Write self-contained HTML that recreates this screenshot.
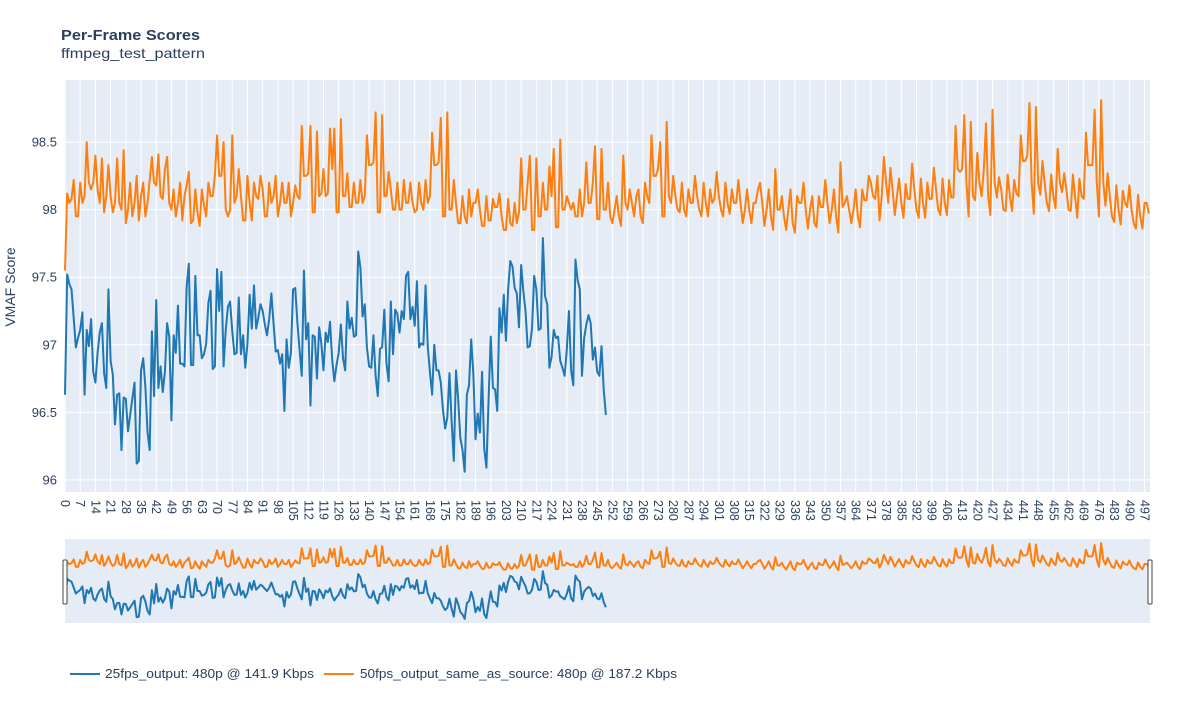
<!DOCTYPE html>
<html><head><meta charset="utf-8">
<style>
body{margin:0;background:#fff;font-family:"Liberation Sans",sans-serif;}
svg text{font-family:"Liberation Sans",sans-serif;fill:#2a3f5f;}
</style></head>
<body>
<svg id="chart" width="1200" height="700" xmlns="http://www.w3.org/2000/svg">
<rect width="1200" height="700" fill="#fff"/>
<text x="61" y="40" font-size="15" font-weight="bold" textLength="139" lengthAdjust="spacingAndGlyphs">Per-Frame Scores</text>
<text x="61" y="58" font-size="14" textLength="144" lengthAdjust="spacingAndGlyphs">ffmpeg_test_pattern</text>
<rect x="65" y="80" width="1085" height="412" fill="#e5ecf6"/>
<g id="grid"></g>
<g id="marks"></g>
<g id="xticks"></g>
<g id="yticks"></g>
<text transform="translate(15,287) rotate(-90)" text-anchor="middle" font-size="14">VMAF Score</text>
<rect x="65" y="539" width="1085" height="84" fill="#e5ecf6"/>
<g id="slider"></g>
<rect x="63" y="560" width="4" height="44" fill="#fff" stroke="#444" stroke-width="1" rx="1"/>
<rect x="1148" y="560" width="4" height="44" fill="#fff" stroke="#444" stroke-width="1" rx="1"/>
<g>
<g>
<line x1="70" y1="674" x2="100" y2="674" stroke="#1f77b4" stroke-width="2"/>
<text x="105" y="678" font-size="12.5" textLength="209" lengthAdjust="spacingAndGlyphs">25fps_output: 480p @ 141.9 Kbps</text></g>
<g>
<line x1="324" y1="674" x2="354" y2="674" stroke="#ff7f0e" stroke-width="2"/>
<text x="360" y="678" font-size="12.5" textLength="317" lengthAdjust="spacingAndGlyphs">50fps_output_same_as_source: 480p @ 187.2 Kbps</text></g>
</g>
</svg>
<script>
const blueValues=[96.63,97.52,97.45,97.41,97.2,96.98,97.05,97.11,97.24,96.63,97.11,96.99,97.19,96.8,96.72,96.94,97.09,97.16,96.79,96.68,97.41,96.88,96.78,96.41,96.63,96.64,96.22,96.61,96.6,96.36,96.48,96.6,96.72,96.12,96.14,96.81,96.9,96.69,96.35,96.22,97.1,96.62,97.33,96.68,96.84,96.65,96.8,97.16,97.06,96.44,97.07,96.94,97.29,96.86,96.86,96.84,97.43,97.6,96.85,96.85,97.51,97.07,97.07,96.9,96.93,97.01,97.31,97.4,96.82,96.84,97.56,97.25,97.54,96.84,97.11,97.28,97.32,97.1,96.93,96.94,97.35,96.93,97.07,96.83,97.01,97.37,97.12,97.44,97.12,97.2,97.3,97.25,97.15,97.07,97.19,97.38,97.16,96.95,96.96,96.86,96.93,96.51,97.04,96.83,96.94,97.41,97.42,97.16,96.96,96.77,97.55,97.04,97.16,96.55,97.07,97.06,96.75,97.13,97.01,96.81,97.09,97.02,97.17,96.89,96.73,96.85,96.94,97.15,96.9,96.81,97.32,97.12,97.2,97.06,97.07,97.69,97.57,97.21,97.3,96.98,96.84,96.83,97.07,96.77,96.62,96.97,96.98,97.26,96.86,96.73,97.32,96.93,97.26,97.23,97.09,97.25,97.19,97.51,97.54,97.19,97.28,97.14,97.47,96.98,97.01,97.0,97.44,96.99,96.8,96.63,97.0,96.81,96.81,96.72,96.52,96.38,96.46,96.79,96.43,96.14,96.81,96.6,96.31,96.22,96.06,96.63,96.7,97.04,96.78,96.3,96.49,96.35,96.8,96.23,96.09,96.59,97.06,96.68,96.67,96.51,97.27,97.09,97.37,97.03,97.41,97.62,97.58,97.42,97.38,97.13,97.59,97.4,97.25,96.98,96.99,97.12,97.51,97.41,97.11,97.12,97.79,97.36,97.3,96.83,96.91,97.11,97.05,97.06,96.88,96.83,96.77,96.96,97.25,96.81,96.7,97.63,97.48,97.41,96.77,97.05,97.15,97.22,97.16,96.89,96.98,96.8,96.77,96.99,96.67,96.48];
const orangeValues=[97.55,98.12,98.05,98.08,98.22,97.95,97.95,98.2,98.05,98.1,
98.5,98.2,98.15,98.2,98.4,98.15,98.05,98.38,97.98,98.1,
98.33,98.1,97.98,98.05,98.38,98.05,98.0,98.44,97.9,98.0,
98.2,97.95,98.05,98.25,97.92,98.1,98.2,97.95,98.05,98.22,
98.39,98.2,98.18,98.41,98.1,98.08,98.3,98.39,98.05,98.0,
98.15,97.95,98.05,98.2,97.92,98.1,98.18,98.28,97.9,97.92,
98.15,97.98,97.88,98.15,98.03,97.95,98.2,98.1,98.1,98.25,
98.55,98.25,98.25,98.5,98.0,97.95,98.0,98.55,98.05,98.1,
98.3,98.1,97.92,97.92,98.25,98.05,97.92,98.2,98.1,98.08,
98.25,98.15,97.95,97.95,98.2,98.05,98.1,98.25,97.95,98.05,
98.2,98.05,98.05,98.2,97.95,98.05,98.18,98.1,98.08,98.62,
98.25,98.25,98.27,98.62,97.98,97.98,98.58,98.1,98.12,98.3,
98.1,98.12,98.6,98.3,98.6,97.98,97.98,98.67,98.1,98.1,
98.27,98.02,98.02,98.2,98.05,98.05,98.22,98.05,98.1,98.55,
98.33,98.33,98.35,98.72,97.98,97.98,98.7,98.1,98.1,98.28,
98.15,98.0,98.0,98.2,98.0,98.0,98.22,98.05,98.05,98.2,
98.05,97.98,98.0,98.2,98.05,98.0,98.22,98.05,98.1,98.57,
98.33,98.33,98.35,98.68,97.95,97.95,98.72,98.0,98.0,98.22,
98.05,97.9,97.9,98.1,97.95,97.9,98.15,97.95,98.05,98.05,
98.15,98.0,97.88,97.88,98.1,97.92,97.92,98.08,98.02,98.02,
98.12,97.95,97.85,97.85,98.08,97.9,97.88,98.05,97.9,97.98,
98.38,98.0,98.0,98.2,98.4,97.85,97.85,98.38,97.95,97.95,
98.2,98.0,98.0,98.32,98.1,98.45,97.87,97.87,98.52,98.0,
98.0,98.1,98.05,98.0,98.05,97.95,97.95,98.15,97.95,98.05,
98.35,98.05,98.05,98.2,98.47,97.93,97.93,98.45,98.0,98.0,
98.2,97.95,97.9,98.0,98.1,97.95,97.88,98.4,98.05,98.0,
98.15,98.05,97.95,98.1,98.15,97.95,97.9,98.2,98.1,98.05,
98.55,98.25,98.25,98.3,98.5,97.95,97.95,98.65,98.1,98.05,
98.25,98.1,98.0,97.98,98.2,98.0,97.95,98.15,98.05,98.05,
98.25,98.1,98.0,97.95,98.2,98.05,97.95,98.15,98.05,98.08,
98.28,98.1,98.0,97.95,98.2,98.05,97.97,98.15,98.05,98.05,
98.22,98.05,97.9,98.0,98.15,98.0,97.9,98.05,98.05,98.15,
98.2,98.05,97.88,98.0,98.15,97.95,97.85,98.3,98.0,98.0,
98.1,97.95,97.85,98.0,98.15,97.9,97.83,98.1,98.05,98.05,
98.2,98.0,97.86,98.0,98.1,97.9,97.87,98.1,98.02,98.02,
98.22,98.05,97.9,98.0,98.15,97.95,97.83,98.35,98.02,98.05,
98.1,98.0,97.9,98.0,98.15,97.95,97.87,98.15,98.07,98.07,
98.25,98.2,98.1,98.08,98.25,97.92,98.1,98.39,98.2,98.05,
98.31,98.15,97.96,98.1,98.23,98.05,97.94,98.19,98.08,98.08,
98.34,98.15,98.0,97.94,98.23,98.05,97.94,98.2,98.08,98.08,
98.31,98.15,98.0,97.96,98.23,98.05,97.96,98.22,98.09,98.09,
98.62,98.3,98.28,98.3,98.7,98.2,97.95,98.65,98.1,98.07,
98.42,98.2,98.1,98.3,98.64,98.1,97.96,98.74,98.2,98.09,
98.24,98.15,98.0,97.99,98.26,98.1,97.99,98.22,98.12,98.1,
98.55,98.36,98.36,98.4,98.79,98.2,97.97,98.76,98.2,98.11,
98.36,98.2,98.05,97.99,98.26,98.1,98.01,98.45,98.2,98.13,
98.27,98.15,98.0,97.99,98.26,98.1,97.94,98.23,98.1,98.08,
98.57,98.33,98.33,98.33,98.74,98.2,97.95,98.81,98.2,98.03,
98.27,98.1,97.95,97.91,98.18,98.0,97.89,98.14,98.05,98.02,
98.18,98.0,97.9,97.86,98.11,97.95,97.86,98.05,98.05,97.97];
const yTickValues=[96,96.5,97,97.5,98,98.5];
const yTickLabels=["96","96.5","97","97.5","98","98.5"];
const xTickStep=7, xTickMax=497;

const X0=65,X1=1150,XMIN=0,XMAX=499.5;
const Y0=492,Y1=80,YMIN=95.91,YMAX=98.96;
const SY0=623,SY1=539;
const xs=f=>X0+(f-XMIN)/(XMAX-XMIN)*(X1-X0);
const ys=v=>Y0-(v-YMIN)/(YMAX-YMIN)*(Y0-Y1);
const ss=v=>SY0-(v-YMIN)/(YMAX-YMIN)*(SY0-SY1);
const NS="http://www.w3.org/2000/svg";
function mk(tag,attrs,parent){const e=document.createElementNS(NS,tag);for(const k in attrs)e.setAttribute(k,attrs[k]);parent.appendChild(e);return e;}
const grid=document.getElementById('grid'),marks=document.getElementById('marks'),xt=document.getElementById('xticks'),yt=document.getElementById('yticks'),sl=document.getElementById('slider');
for(let f=0;f<=xTickMax;f+=xTickStep){
  const x=xs(f);
  const g=mk('line',{x1:x,x2:x,y1:Y1,y2:Y0,stroke:'#fff','stroke-width':1},grid);
  
  
  const t=mk('text',{transform:`translate(${x-4},500) rotate(90)`,'font-size':12.5},xt);
  t.textContent=String(f);
  
  
}
yTickValues.forEach((v,i)=>{
  const y=ys(v);
  const g=mk('line',{x1:X0,x2:X1,y1:y,y2:y,stroke:'#fff','stroke-width':1},grid);
  
  
  const t=mk('text',{x:57,y:y+4.5,'text-anchor':'end','font-size':13},yt);
  t.textContent=yTickLabels[i];
  
  
});
function pts(arr,fy){return arr.map((v,i)=>xs(i).toFixed(2)+','+fy(v).toFixed(2)).join(' ');}
const series=[[blueValues,'#1f77b4','blue'],[orangeValues,'#ff7f0e','orange']];
series.forEach(([arr,c,n])=>{
  const p=mk('polyline',{points:pts(arr,ys),fill:'none',stroke:c,'stroke-width':2,'stroke-linejoin':'round'},marks);
  
  
  const q=mk('polyline',{points:pts(arr,ss),fill:'none',stroke:c,'stroke-width':2,'stroke-linejoin':'round'},sl);
  
  
});
</script>
</body></html>
